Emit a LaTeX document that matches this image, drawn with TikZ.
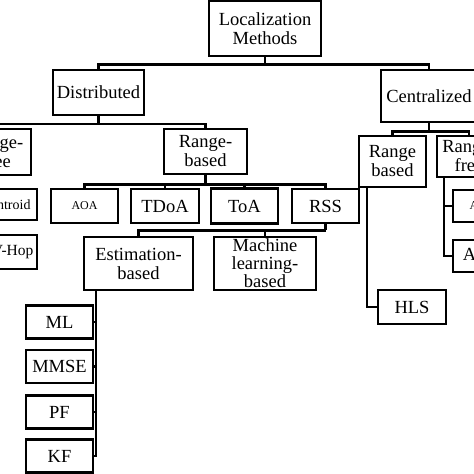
\documentclass[tikz,border=0pt]{standalone}
\usepackage{fontspec}
\setmainfont{Liberation Serif}
\begin{document}
\begin{tikzpicture}[x=1pt,y=-1pt,
  box/.style={draw, line width=2.8pt, align=center, inner sep=1pt, font=\fontsize{18.5}{19}\selectfont},
  small/.style={font=\fontsize{12}{13}\selectfont},
  link/.style={line width=2.8pt}]
\useasboundingbox (0,0) rectangle (474,474);
\clip (0,0) rectangle (474,474);

% Root
\node[box, minimum width=112pt, minimum height=55pt] (loc) at (265,28.5) {Localization\\Methods};

% Distributed branch
\node[box, minimum width=69pt, minimum height=46pt] (rfl) at (-3.5,152) {Range-\\free};
\node[box, minimum width=91pt, minimum height=45pt] (dist) at (98.5,92.5) {Distributed};
\node[box, minimum width=83pt, minimum height=45pt] (rb) at (205.5,151.5) {Range-\\based};
\node[box, minimum width=62pt, minimum height=31pt, font=\fontsize{14}{15}\selectfont] (cen) at (6,204.5) {Centroid};
\node[box, minimum width=60pt, minimum height=34pt, font=\fontsize{15.5}{16}\selectfont] (dvh) at (7,252) {DV-Hop};
\node[box, small, minimum width=67pt, minimum height=34pt] (aoa) at (84.5,206) {AOA};
\node[box, minimum width=68pt, minimum height=34pt] (tdoa) at (165,206) {TDoA};
\node[box, minimum width=67pt, minimum height=35pt] (toa) at (244.5,206) {ToA};
\node[box, minimum width=67pt, minimum height=34pt] (rss) at (325.5,206) {RSS};
\node[box, minimum width=109pt, minimum height=53pt] (est) at (138.5,263.5) {Estimation-\\based};
\node[box, inner ysep=0pt, minimum width=102pt, minimum height=53pt, font=\fontsize{18.5}{18}\selectfont] (mlb) at (265,263.5) {Machine\\learning-\\based};
\foreach \n/\y in {ML/322, MMSE/366.5, PF/412, KF/456}
    \node[box, minimum width=67pt, minimum height=33pt] (\n) at (59.5,\y) {\n};

% Centralized branch
\node[box, minimum width=96pt, minimum height=52pt] (cent) at (429,96) {Centralized};
\node[box, minimum width=67pt, minimum height=51pt] (crb) at (392.5,161.5) {Range\\based};
\node[box, minimum width=64pt, minimum height=41pt] (crf) at (469,156.5) {Range-\\free};
\node[box, minimum width=68pt, minimum height=34pt] (hls) at (412,307) {HLS};
\node[box, small, minimum width=60pt, minimum height=32pt] (apit) at (483,206) {APIT};
\node[box, minimum width=107pt, minimum height=32pt] (amor) at (506.5,256) {Amorphous};

% Connectors
\draw[link] (loc.south) -- ++(0,7) coordinate (b0);
\foreach \c in {dist,cent} \draw[link] (b0) -| (\c.north);
\draw[link] (dist.south) -- ++(0,7.5) coordinate (b1);
\foreach \c in {rfl,rb} \draw[link] (b1) -| (\c.north);
\draw[link] (rb.south) -- ++(0,9) coordinate (b2);
\foreach \c in {aoa,tdoa,toa,rss} \draw[link] (b2) -| (\c.north);
\draw[link] (rss.south) -- ++(0,6) coordinate (b3);
\foreach \c in {est,mlb} \draw[link] (b3) -| (\c.north);
\draw[link] (cent.south) -- ++(0,8) coordinate (b4);
\foreach \c in {crb,crf} \draw[link] (b4) -| (\c.north);
\coordinate (b5) at ([xshift=-42.5pt]est.south);
\foreach \c in {ML,MMSE,PF,KF} \draw[link] (b5) |- (\c.east);
\coordinate (b6) at ([xshift=-25.5pt]crb.south);
\draw[link] (b6) |- (hls.west);
\coordinate (b7) at ([xshift=-25pt]crf.south);
\foreach \c in {apit,amor} \draw[link] (b7) |- (\c.west);
\end{tikzpicture}
\end{document}
